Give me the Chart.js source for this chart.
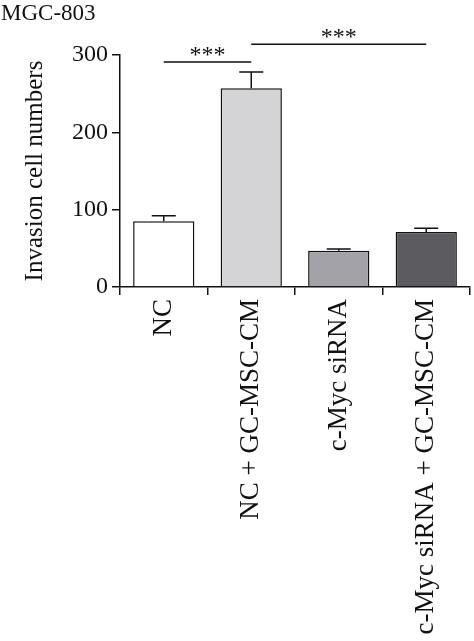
<!DOCTYPE html>
<html>
<head>
<meta charset="utf-8">
<script src="https://cdn.jsdelivr.net/npm/chart.js@4"></script>
<style>
  html, body { margin: 0; padding: 0; background: #fff; }
  #wrap { position: relative; width: 474px; height: 641px; }
  #title { position: absolute; left: 1px; top: 0px; font: 23px "Liberation Serif", serif; color: #111; }
</style>
</head>
<body>
<div id="wrap">
  <div id="title">MGC-803</div>
  <canvas id="invChart" width="474" height="641"></canvas>
</div>
<script>
const groups = ['NC', 'NC + GC-MSC-CM', 'c-Myc siRNA', 'c-Myc siRNA + GC-MSC-CM'];
const means = [85, 257, 47, 71];
const errors = [7, 21, 2, 5];
const barColors = ['#ffffff', '#d4d4d6', '#a2a2a8', '#5c5c60'];
const yTicks = [0, 100, 200, 300];
// significance comparisons: [from index, to index, y value of line, label]
const sigPairs = [[0, 1, 291, '***'], [1, 3, 314, '***']];

const serif = '"Liberation Serif", serif';

const annotations = {
  id: 'annotations',
  afterDatasetsDraw(chart) {
    const ctx = chart.ctx;
    const x = chart.scales.x, y = chart.scales.y;
    ctx.save();
    ctx.strokeStyle = '#111';
    ctx.lineWidth = 1.5;
    means.forEach((m, i) => {
      const cx = x.getPixelForValue(i);
      const top = y.getPixelForValue(m + errors[i]);
      const base = y.getPixelForValue(m);
      ctx.beginPath();
      ctx.moveTo(cx, base); ctx.lineTo(cx, top);
      ctx.moveTo(cx - 12, top); ctx.lineTo(cx + 12, top);
      ctx.stroke();
    });
    ctx.fillStyle = '#111';
    ctx.font = '24px ' + serif;
    ctx.textAlign = 'center';
    ctx.textBaseline = 'bottom';
    sigPairs.forEach(([a, b, v, label]) => {
      const x1 = x.getPixelForValue(a), x2 = x.getPixelForValue(b);
      const py = y.getPixelForValue(v);
      ctx.beginPath();
      ctx.moveTo(x1, py); ctx.lineTo(x2, py);
      ctx.stroke();
      ctx.fillText(label, (x1 + x2) / 2, py + 6);
    });
    ctx.restore();
  }
};

new Chart(document.getElementById('invChart'), {
  type: 'bar',
  data: {
    labels: groups,
    datasets: [{
      data: means,
      backgroundColor: barColors,
      borderColor: '#111',
      borderWidth: 1.5,
      barPercentage: 0.7,
      categoryPercentage: 1.0
    }]
  },
  options: {
    responsive: false,
    animation: false,
    layout: { padding: { top: 55, right: 4, left: 0, bottom: 0 } },
    plugins: { legend: { display: false }, tooltip: { enabled: false } },
    scales: {
      y: {
        min: 0, max: 300,
        afterBuildTicks(axis) { axis.ticks = yTicks.map(v => ({ value: v })); },
        afterFit(axis) { axis.width = 120; },
        border: { color: '#111', width: 1.5 },
        grid: { drawOnChartArea: false, color: '#111', tickLength: 8, lineWidth: 1.5 },
        ticks: { color: '#111', font: { family: serif, size: 24 }, padding: 4 },
        title: { display: true, text: 'Invasion cell numbers', color: '#111', font: { family: serif, size: 25 }, padding: { top: 20, bottom: 0 } }
      },
      x: {
        afterFit(axis) { axis.height = 354; },
        border: { color: '#111', width: 1.5 },
        grid: { drawOnChartArea: false, color: '#111', tickLength: 8, lineWidth: 1.5 },
        ticks: { color: '#111', font: { family: serif, size: 27 }, maxRotation: 90, minRotation: 90, padding: 4 }
      }
    }
  },
  plugins: [annotations]
});
</script>
</body>
</html>
